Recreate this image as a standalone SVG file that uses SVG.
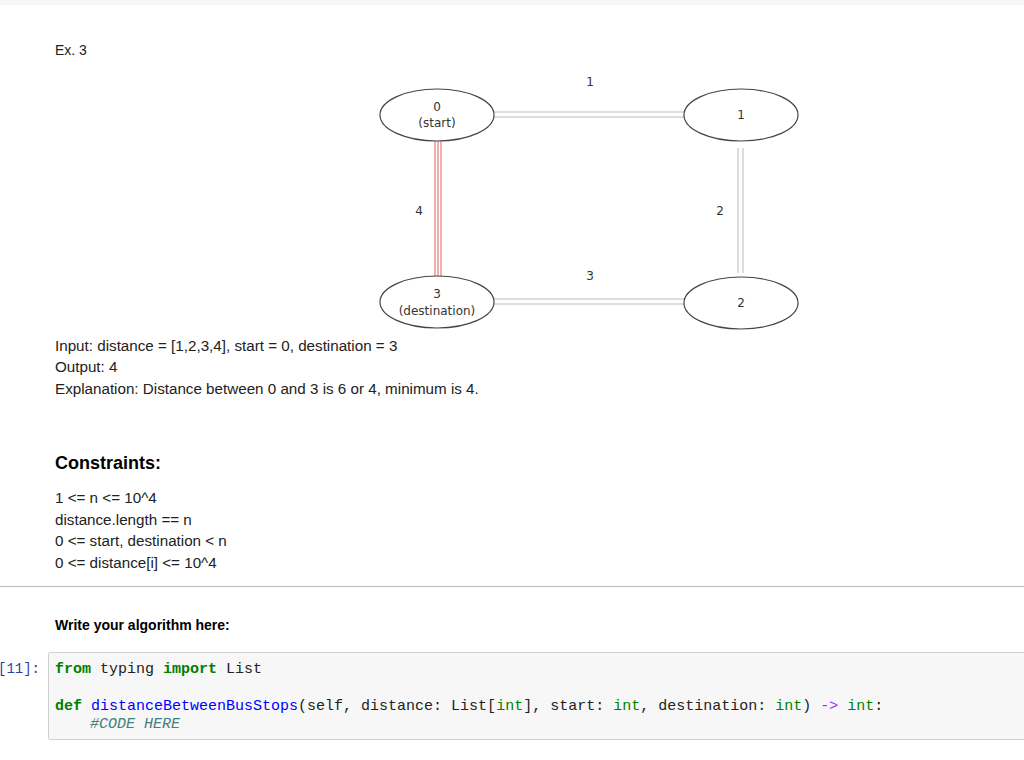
<svg xmlns="http://www.w3.org/2000/svg" width="1024" height="760" viewBox="0 0 1024 760">
<style>
.t{font-family:"Liberation Sans",Arial,sans-serif;font-size:15.2px;fill:#222}
.n{font-family:"DejaVu Sans",Verdana,sans-serif;font-size:12px;fill:#333;text-anchor:middle}
.e{fill:#fff;stroke:#444;stroke-width:1.2}
.c{font-family:"Liberation Mono","Courier New",monospace;font-size:15px;fill:#222}
.k{fill:#008000;font-weight:bold}
.b{fill:#0000ff}
.g{fill:#008000}
.o{fill:#aa22ff}
.cm{fill:#408080;font-style:italic}
</style>
<rect width="1024" height="760" fill="#fff"/>
<rect x="0" y="0" width="1024" height="5" fill="#f6f6f6"/>
<text class="t" x="55" y="55" style="font-size:14px">Ex. 3</text>
<g id="connectors" fill="none">
<path d="M494 112H684M494 117H684" stroke="#bbb"/>
<path d="M494 299H684M494 304H684" stroke="#bbb"/>
<path d="M738 148V273M743 148V273" stroke="#bbb"/>
<path d="M435 141V276M438 141V276M441 141V276" stroke="#e06060"/>
<text class="n" x="590" y="86">1</text>
<text class="n" x="720" y="215">2</text>
<text class="n" x="590" y="280">3</text>
<text class="n" x="419" y="215">4</text>
</g>
<g id="node0"><ellipse class="e" cx="437" cy="115" rx="57" ry="26"/><text class="n" x="437" y="111">0</text><text class="n" x="437" y="127">(start)</text></g>
<g id="node1"><ellipse class="e" cx="741" cy="115" rx="57" ry="26"/><text class="n" x="741" y="119">1</text></g>
<g id="node2"><ellipse class="e" cx="741" cy="303" rx="57" ry="26"/><text class="n" x="741" y="307">2</text></g>
<g id="node3"><ellipse class="e" cx="437" cy="302" rx="57" ry="26"/><text class="n" x="437" y="298">3</text><text class="n" x="437" y="315">(destination)</text></g>
<text class="t" x="55" y="351">Input: distance = [1,2,3,4], start = 0, destination = 3</text>
<text class="t" x="55" y="372">Output: 4</text>
<text class="t" x="55" y="394">Explanation: Distance between 0 and 3 is 6 or 4, minimum is 4.</text>
<text class="t" x="55" y="469" style="font-size:18px;font-weight:bold;fill:#000">Constraints:</text>
<text class="t" x="55" y="503">1 &lt;= n &lt;= 10^4</text>
<text class="t" x="55" y="525">distance.length == n</text>
<text class="t" x="55" y="546">0 &lt;= start, destination &lt; n</text>
<text class="t" x="55" y="568">0 &lt;= distance[i] &lt;= 10^4</text>
<line x1="0" y1="586.5" x2="1024" y2="586.5" stroke="#bbb"/>
<text class="t" x="55" y="630" style="font-size:14px;font-weight:bold;fill:#000">Write your algorithm here:</text>
<rect x="48.5" y="652.5" width="980" height="87" fill="#f7f7f7" stroke="#cfcfcf" rx="2"/>
<text class="c" x="-2" y="673" style="fill:#303f9f;font-size:14px">[11]:</text>
<text class="c" x="55" y="673"><tspan class="k">from</tspan> typing <tspan class="k">import</tspan> List</text>
<text class="c" x="55" y="710"><tspan class="k">def</tspan> <tspan class="b">distanceBetweenBusStops</tspan>(self, distance: List[<tspan class="g">int</tspan>], start: <tspan class="g">int</tspan>, destination: <tspan class="g">int</tspan>) <tspan class="o">-&gt;</tspan> <tspan class="g">int</tspan>:</text>
<text class="c cm" x="90" y="728">#CODE HERE</text>
</svg>
